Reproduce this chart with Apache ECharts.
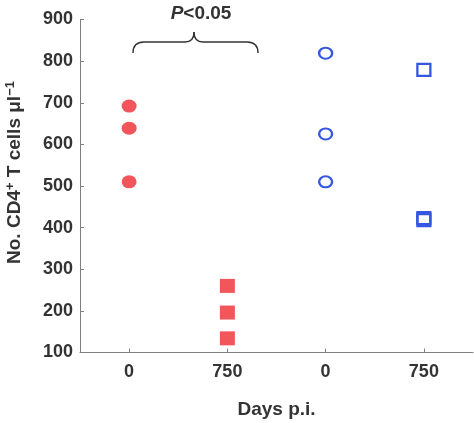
<!DOCTYPE html>
<html>
<head>
<meta charset="utf-8">
<script src="https://cdn.jsdelivr.net/npm/echarts@6/dist/echarts.min.js"></script>
<style>html,body{margin:0;padding:0;background:#fff}#c{width:474px;height:423px}</style>
</head>
<body>
<div id="c"></div>
<script>
const categories = ['0', '750', '0', '750'];
const yTicks = { min: 100, max: 900, interval: 100 };
const redCircles = [692, 639, 510];      // group 1, day 0
const redSquares = [260, 196, 134];      // group 1, day 750
const blueCircles = [819, 625, 510];     // group 2, day 0
const blueSquares = [779, 423, 418];     // group 2, day 750
const annotationText = 'P<0.05';

const FONT = 'Liberation Sans, Arial, sans-serif';
const RED = '#f3565a';
const BLUE = '#3556e0';
const TXT = '#333333';
const AX = '#808080';

function pts(catIndex, vals) { return vals.map(v => [catIndex, v]); }

const braceStyle = { stroke: '#333', lineWidth: 1.4, fill: null };
function q(x1, y1, cx, cy, x2, y2) {
  return { type: 'bezierCurve', shape: { x1: x1, y1: y1, cpx1: cx, cpy1: cy, x2: x2, y2: y2 }, style: braceStyle };
}
function ln(x1, y1, x2, y2) {
  return { type: 'line', shape: { x1: x1, y1: y1, x2: x2, y2: y2 }, style: braceStyle };
}

const chart = echarts.init(document.getElementById('c'), null, { renderer: 'canvas' });
chart.setOption({
  animation: false,
  backgroundColor: '#ffffff',
  textStyle: { fontFamily: FONT },
  grid: { left: 80, right: 1, top: 19.5, bottom: 70.5, containLabel: false, outerBoundsMode: 'none' },
  xAxis: {
    type: 'category',
    data: categories,
    boundaryGap: true,
    name: 'Days p.i.',
    nameLocation: 'middle',
    nameGap: 48,
    nameTextStyle: { fontFamily: FONT, fontSize: 19, fontWeight: 'bold', color: TXT, verticalAlign: 'top' },
    axisLine: { lineStyle: { color: AX, width: 1 } },
    axisTick: { show: true, inside: true, alignWithLabel: true, length: 4, lineStyle: { color: AX } },
    axisLabel: { fontFamily: FONT, fontSize: 18, fontWeight: 'bold', color: TXT, margin: 11 },
    splitLine: { show: false }
  },
  yAxis: {
    type: 'value',
    min: yTicks.min, max: yTicks.max, interval: yTicks.interval,
    name: '{a|No. CD4}{s|+}{a| T cells μl}{s|−1}',
    nameLocation: 'middle',
    nameRotate: 90,
    nameGap: 54,
    nameTextStyle: {
      padding: [0, 0, 0, 27],
      rich: {
        a: { fontFamily: FONT, fontSize: 19, fontWeight: 'bold', color: TXT, lineHeight: 22 },
        s: { fontFamily: FONT, fontSize: 13, fontWeight: 'bold', color: TXT, lineHeight: 12, verticalAlign: 'top' }
      }
    },
    axisLine: { show: true, lineStyle: { color: AX, width: 1 } },
    axisTick: { show: true, inside: true, length: 4, lineStyle: { color: AX } },
    axisLabel: { fontFamily: FONT, fontSize: 18, fontWeight: 'bold', color: TXT, margin: 7 },
    splitLine: { show: false }
  },
  series: [
    { type: 'scatter', name: 'g1-0', data: pts(0, redCircles), symbol: 'circle', symbolSize: [15, 13],
      itemStyle: { color: RED, opacity: 1 } },
    { type: 'scatter', name: 'g1-750', data: pts(1, redSquares), symbol: 'rect', symbolSize: [15, 14],
      itemStyle: { color: RED, opacity: 1 } },
    { type: 'scatter', name: 'g2-0', data: pts(2, blueCircles), symbol: 'circle', symbolSize: [13, 11],
      itemStyle: { color: '#ffffff', borderColor: BLUE, borderWidth: 2.2, opacity: 1 } },
    { type: 'scatter', name: 'g2-750', data: pts(3, blueSquares), symbol: 'rect', symbolSize: [13, 12],
      itemStyle: { color: 'rgba(255,255,255,0)', borderColor: BLUE, borderWidth: 2.2, opacity: 1 } }
  ],
  graphic: [
    {
      type: 'group',
      children: [
        q(133, 53, 133, 42, 144, 42),
        ln(144, 42, 185, 42),
        q(185, 42, 194, 42, 194, 32),
        q(194, 32, 194, 42, 203, 42),
        ln(203, 42, 247, 42),
        q(247, 42, 258, 42, 258, 53)
      ]
    },
    {
      type: 'text',
      x: 201, y: 14,
      style: {
        text: '{i|P}{n|' + annotationText.slice(1) + '}',
        align: 'center', verticalAlign: 'middle',
        rich: {
          i: { fontFamily: FONT, fontSize: 19, fontWeight: 'bold', fontStyle: 'italic', fill: TXT },
          n: { fontFamily: FONT, fontSize: 19, fontWeight: 'bold', fill: TXT }
        }
      }
    }
  ]
});
</script>
</body>
</html>
